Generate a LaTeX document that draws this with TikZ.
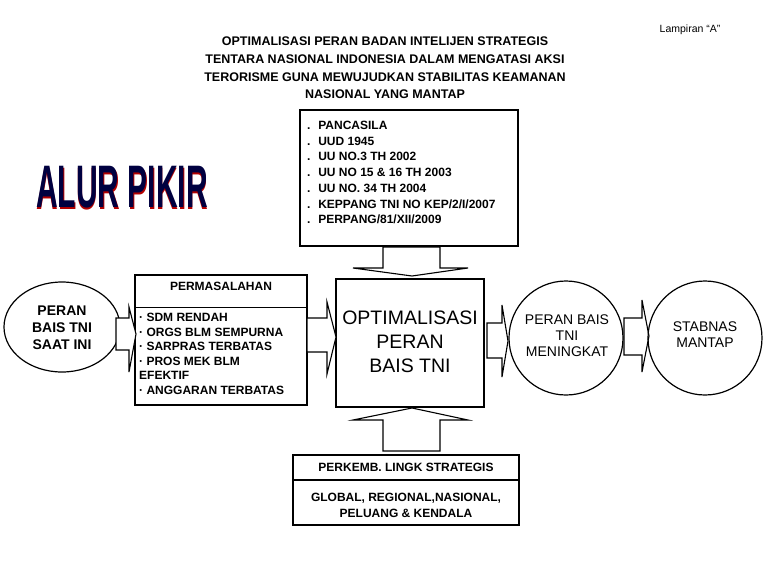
\documentclass[tikz,border=0pt]{standalone}
\usepackage{fontspec}
\setmainfont{Liberation Sans}
\begin{document}
\begin{tikzpicture}[x=1pt,y=-1pt,
  box/.style={draw,line width=1.2pt,fill=white},
  barrow/.style={draw,line width=1.1pt,fill=white,line join=miter},
  txt/.style={font=\bfseries\fontsize{12}{14}\selectfont,inner sep=0}]
\useasboundingbox (0,0) rectangle (768,576);
\node[font=\fontsize{10.5}{12}\selectfont] (lamp) at (690,30) {Lampiran “A”};
\node[font=\bfseries\fontsize{12.5}{17.7}\selectfont,align=center] (title) at (385,68)
 {OPTIMALISASI PERAN BADAN INTELIJEN STRATEGIS\\TENTARA NASIONAL INDONESIA DALAM MENGATASI AKSI\\TERORISME GUNA MEWUJUDKAN STABILITAS KEAMANAN\\NASIONAL YANG MANTAP};
\node[font=\bfseries\fontsize{60}{60}\selectfont,text=blue!25!black,xscale=0.5] (alur) at (122,188)
 {\makebox[0pt][l]{\kern1.5pt\raisebox{-2pt}{\color{red!70!black}ALUR PIKIR}}ALUR PIKIR};
% top box
\draw[box] (300,110) rectangle (518,246);
\node[txt,align=left,anchor=north west,font=\bfseries\fontsize{12}{15.7}\selectfont] (dasar) at (307,121)
 {. \ PANCASILA\\. \ UUD 1945\\. \ UU NO.3 TH 2002\\. \ UU NO 15 \& 16 TH 2003\\. \ UU NO. 34 TH 2004\\. \ KEPPANG TNI NO KEP/2/I/2007\\. \ PERPANG/81/XII/2009};
% down arrow
\draw[barrow] (383,247) -- (440,247) -- (440,268) -- (468,268) -- (412,276) -- (353,268) -- (383,268) -- cycle;
% center box
\draw[box] (336,279) rectangle (484,407);
\node[align=center,font=\fontsize{19.5}{24}\selectfont] (opt) at (410,342) {OPTIMALISASI\\PERAN\\BAIS TNI};
% up arrow
\draw[barrow] (383,451) -- (440,451) -- (440,420) -- (468,420) -- (412,408) -- (353,420) -- (383,420) -- cycle;
% bottom box
\draw[box] (293,455) rectangle (519,525);
\draw[line width=1.2pt] (293,480) -- (519,480);
\node[txt] (perk) at (406,467) {PERKEMB. LINGK STRATEGIS};
\node[txt,align=center,font=\bfseries\fontsize{12}{16}\selectfont] (glob) at (406,505) {GLOBAL, REGIONAL,NASIONAL,\\PELUANG \& KENDALA};
% permasalahan box
\draw[box] (135,275) rectangle (307,405);
\draw[line width=1pt] (135,307) -- (307,307);
\node[txt] (perm) at (221,286) {PERMASALAHAN};
\node[txt,align=left,anchor=north west,font=\bfseries\fontsize{12}{14.6}\selectfont] (items) at (139,313)
 {· SDM RENDAH\\· ORGS BLM SEMPURNA\\· SARPRAS TERBATAS\\· PROS MEK BLM\\EFEKTIF\\· ANGGARAN TERBATAS};
% left ellipse
\draw[line width=1.2pt] (62,327) ellipse [x radius=58,y radius=45];
\node[align=center,font=\bfseries\fontsize{14}{17}\selectfont] (saat) at (62,328) {PERAN\\BAIS TNI\\SAAT INI};
% arrows right
\draw[barrow] (116,318) -- (129,318) -- (129,307) -- (136,334) -- (129,372) -- (129,350) -- (116,350) -- cycle;
\draw[barrow] (307,318) -- (327,318) -- (327,302) -- (336,337) -- (327,374) -- (327,352) -- (307,352) -- cycle;
\draw[barrow] (487,323) -- (502,323) -- (502,305) -- (508,341) -- (502,377) -- (502,358) -- (487,358) -- cycle;
\draw[barrow] (624,318) -- (642,318) -- (642,300) -- (649,336) -- (642,372) -- (642,355) -- (624,355) -- cycle;
% circles
\draw[line width=1.2pt] (566,338) circle [radius=57];
\node[align=center,font=\fontsize{14}{16}\selectfont] (mening) at (567,336) {PERAN BAIS\\TNI\\MENINGKAT};
\draw[line width=1.2pt] (705,338) circle [radius=57];
\node[align=center,font=\fontsize{14}{16}\selectfont] (stab) at (705,335) {STABNAS\\MANTAP};
\end{tikzpicture}
\end{document}
